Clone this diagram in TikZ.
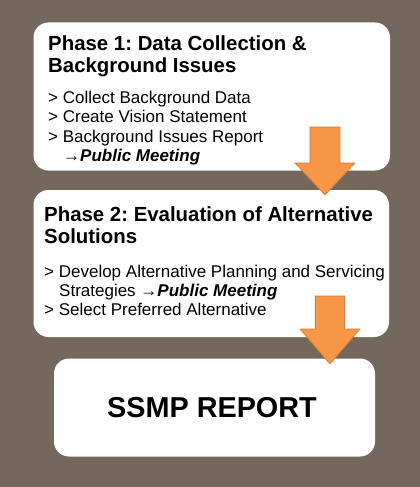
\documentclass[tikz,border=0pt]{standalone}
\usepackage{fontspec}
\setmainfont{Liberation Sans}
\usetikzlibrary{calc}
\definecolor{bgc}{RGB}{115,104,91}
\definecolor{arrowfill}{RGB}{247,150,70}
\definecolor{arrowline}{RGB}{222,122,48}
\frenchspacing
\begin{document}
\begin{tikzpicture}[x=1pt,y=-1pt,
  box/.style={fill=white, rounded corners=15pt, inner sep=0pt},
  headtxt/.style={font=\fontsize{20.4}{24}\selectfont\bfseries, anchor=base west, inner sep=0pt},
  itemtxt/.style={font=\fontsize{17}{19}\selectfont, anchor=base west, inner sep=0pt},
  bigtxt/.style={font=\fontsize{28.8}{32}\selectfont\bfseries, inner sep=0pt},
  bigarrow/.style={fill=arrowfill, draw=arrowline, line width=0.6pt, line join=miter}]
\fill[bgc] (0,0) rectangle (420,487);
\useasboundingbox (0,0) rectangle (420,487);

% boxes
\node[box, minimum width=356.5pt, minimum height=148pt] (box1) at (211.75,96.5) {};
\node[box, minimum width=355.5pt, minimum height=147pt] (box2) at (211.25,263.5) {};
\node[box, minimum width=321pt, minimum height=98pt] (box3) at (214.5,407.5) {};

% phase 1 text
\node[headtxt] (h1a) at (48,51) {Phase 1: Data Collection \&};
\node[headtxt] (h1b) at (48,73) {Background Issues};
\node[itemtxt] (b1a) at (48,103.3) {> Collect Background Data};
\node[itemtxt] (b1b) at (48,122.7) {> Create Vision Statement};
\node[itemtxt] (b1c) at (48,142.2) {> Background Issues Report};
\node[itemtxt] (b1d) at (63,161.6) {→\textbf{\textit{Public Meeting}}};

% phase 2 text
\node[headtxt] (h2a) at (44,221) {Phase 2: Evaluation of Alternative};
\node[headtxt] (h2b) at (44,243) {Solutions};
\node[itemtxt] (b2a) at (44,277.3) {> Develop Alternative Planning and Servicing};
\node[itemtxt] (b2b) at (59,296.6) {Strategies →\textbf{\textit{Public Meeting}}};
\node[itemtxt] (b2c) at (44,315.7) {> Select Preferred Alternative};

% report
\node[bigtxt] (rep) at (212,408) {SSMP REPORT};

% arrows
\coordinate (a1top) at (325,127);
\coordinate (a1tip) at (325,195);
\draw[bigarrow] ($(a1top)+(-15,0)$) -- ($(a1top)+(15,0)$) -- ($(a1tip)+(15,-32)$)
  -- ($(a1tip)+(30,-32)$) -- (a1tip) -- ($(a1tip)+(-30,-32)$) -- ($(a1tip)+(-15,-32)$) -- cycle;
\coordinate (a2top) at (330,296);
\coordinate (a2tip) at (330,364);
\draw[bigarrow] ($(a2top)+(-14.5,0)$) -- ($(a2top)+(14.5,0)$) -- ($(a2tip)+(14.5,-35)$)
  -- ($(a2tip)+(30,-35)$) -- (a2tip) -- ($(a2tip)+(-30,-35)$) -- ($(a2tip)+(-14.5,-35)$) -- cycle;
\end{tikzpicture}
\end{document}
